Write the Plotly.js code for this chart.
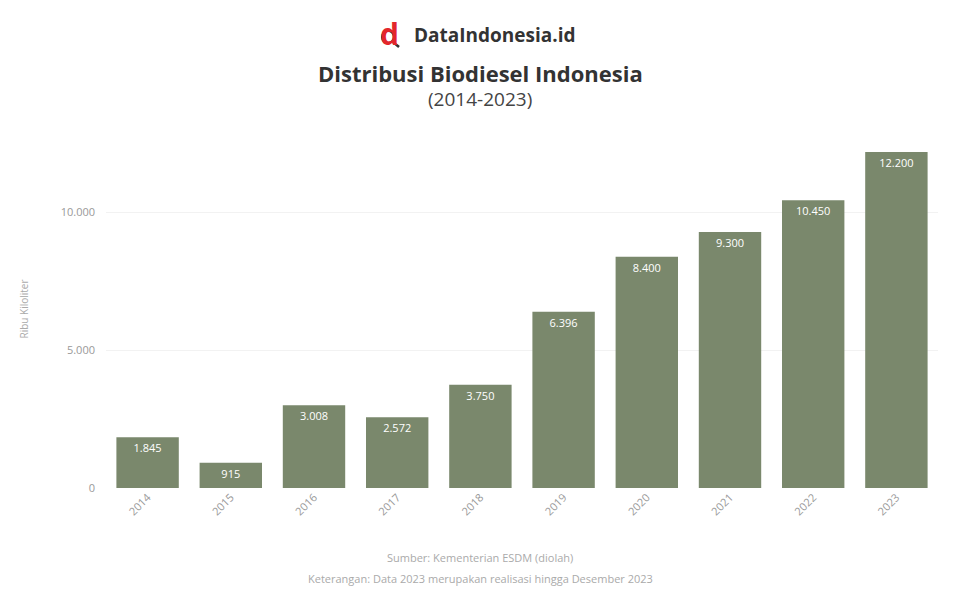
<!DOCTYPE html>
<html>
<head>
<meta charset="utf-8">
<script src="https://cdn.plot.ly/plotly-3.0.1.min.js"></script>
<style>html,body{margin:0;padding:0;background:#fff;}#chart{width:960px;height:600px;}</style>
</head>
<body>
<div id="chart"></div>
<script>
const years = ['2014','2015','2016','2017','2018','2019','2020','2021','2022','2023'];
const distribusi = [1845, 915, 3008, 2572, 3750, 6396, 8400, 9300, 10450, 12200];
const yTicks = [0, 5000, 10000];
const yTickLabels = ['0', '5.000', '10.000'];

const trace = {
  type: 'bar',
  x: years,
  y: distribusi,
  marker: {color: '#7a886c'},
  text: distribusi.map(v => v.toLocaleString('de-DE')),
  textposition: 'inside',
  insidetextanchor: 'end',
  textfont: {color: '#ffffff', size: 11, family: 'Open Sans'},
  hoverinfo: 'x+y'
};

const pY = py => (488 - py) / 358;
const pX = px => (px - 106) / 832;

const layout = {
  width: 960, height: 600,
  paper_bgcolor: '#ffffff', plot_bgcolor: '#ffffff',
  margin: {l: 106, r: 22, t: 130, b: 112},
  separators: ',.',
  bargap: 0.25,
  showlegend: false,
  font: {family: 'Open Sans', color: '#888'},
  xaxis: {
    type: 'category',
    tickangle: -45,
    tickfont: {size: 11, color: '#999'},
    showgrid: false, zeroline: false, showline: false,
    ticks: ''
  },
  yaxis: {
    range: [0, 13000],
    tickvals: yTicks,
    ticktext: yTickLabels,
    tickfont: {size: 11, color: '#999'},
    ticklabelstandoff: 10,
    gridcolor: '#f2f2f2',
    zeroline: false, showline: false,
    title: {text: 'Ribu Kiloliter', font: {size: 10, color: '#aaa'}, standoff: 30}
  },
  annotations: [
    {xref: 'paper', yref: 'paper', x: pX(495), y: pY(35), xanchor: 'center', yanchor: 'middle', showarrow: false,
     text: '<b>DataIndonesia.id</b>', font: {family: 'Open Sans', size: 19, color: '#333'}},
    {xref: 'paper', yref: 'paper', x: pX(389), y: pY(33), xanchor: 'center', yanchor: 'middle', showarrow: false,
     text: '<b>d</b>', font: {family: 'Open Sans', size: 30, color: '#e3262b'}},
    {xref: 'paper', yref: 'paper', x: pX(480), y: pY(73), xanchor: 'center', yanchor: 'middle', showarrow: false,
     text: '<b>Distribusi Biodiesel Indonesia</b>', font: {family: 'Open Sans', size: 22, color: '#333'}},
    {xref: 'paper', yref: 'paper', x: pX(480), y: pY(99), xanchor: 'center', yanchor: 'middle', showarrow: false,
     text: '(2014-2023)', font: {family: 'Open Sans', size: 19, color: '#444'}},
    {xref: 'paper', yref: 'paper', x: pX(480), y: pY(557), xanchor: 'center', yanchor: 'middle', showarrow: false,
     text: 'Sumber: Kementerian ESDM (diolah)', font: {family: 'Open Sans', size: 11, color: '#aaa'}},
    {xref: 'paper', yref: 'paper', x: pX(480), y: pY(578), xanchor: 'center', yanchor: 'middle', showarrow: false,
     text: 'Keterangan: Data 2023 merupakan realisasi hingga Desember 2023', font: {family: 'Open Sans', size: 11, color: '#aaa'}}
  ],
  shapes: [
    {type: 'circle', xref: 'paper', yref: 'paper', layer: 'above',
     x0: pX(382), x1: pX(394), y0: pY(43), y1: pY(31),
     line: {color: '#333', width: 2}, fillcolor: 'rgba(255,255,255,0.85)'},
    {type: 'line', xref: 'paper', yref: 'paper', layer: 'above',
     x0: pX(393), x1: pX(399), y0: pY(42), y1: pY(47),
     line: {color: '#333', width: 2.5}}
  ]
};

Plotly.newPlot('chart', [trace], layout, {displayModeBar: false, staticPlot: true});
</script>
</body>
</html>
